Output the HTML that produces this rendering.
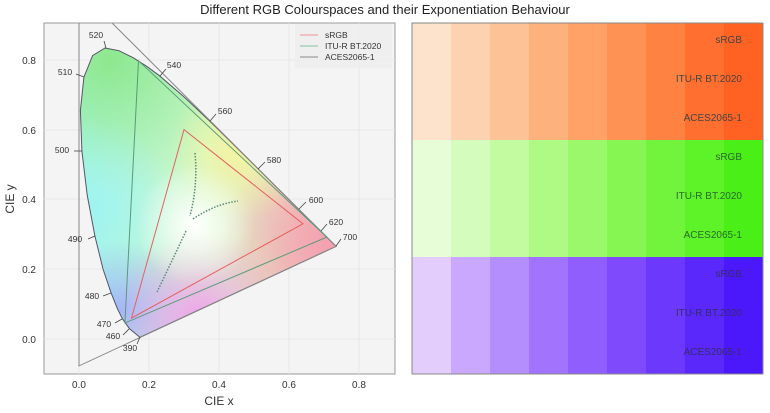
<!DOCTYPE html>
<html><head><meta charset="utf-8"><style>
html,body{margin:0;padding:0;background:#fff;width:770px;height:413px;overflow:hidden}
svg{display:block;font-family:"Liberation Sans",sans-serif}
</style></head><body>
<svg width="770" height="413" viewBox="0 0 770 413">
<defs>
<clipPath id="ax"><rect x="44" y="23" width="351" height="351"/></clipPath>
<clipPath id="loc"><polygon points="139.9,337.3 129.4,328.6 122.4,318.8 117.4,308.7 111,292.7 103,269 94.9,236 87.2,195 81.9,151.1 80.4,110.4 83.9,77.2 92.6,55.6 105,48 119,50.7 133.1,57.7 146.5,66.2 159.4,75.7 184.6,97.4 209.6,121 234.4,145.4 258.4,169.2 280.3,191 298.4,209 321,231.4 330.7,241 336.1,246.4"/></clipPath>
<linearGradient id="g1" x1="0" y1="0" x2="1" y2="0">
<stop offset="0" stop-color="#a8f6e8"/><stop offset="0.5" stop-color="#d8f8c8"/><stop offset="1" stop-color="#f8b8b8"/></linearGradient>
<radialGradient id="gg" cx="110" cy="60" r="140" gradientUnits="userSpaceOnUse"><stop offset="0" stop-color="#8ee88e"/><stop offset="1" stop-color="#8ee88e" stop-opacity="0"/></radialGradient>
<radialGradient id="gc" cx="90" cy="210" r="90" gradientUnits="userSpaceOnUse"><stop offset="0" stop-color="#9ff4f0"/><stop offset="1" stop-color="#9ff4f0" stop-opacity="0"/></radialGradient>
<radialGradient id="gb" cx="120" cy="310" r="70" gradientUnits="userSpaceOnUse"><stop offset="0" stop-color="#9cb8f8"/><stop offset="1" stop-color="#9cb8f8" stop-opacity="0"/></radialGradient>
<radialGradient id="gm" cx="200" cy="320" r="90" gradientUnits="userSpaceOnUse"><stop offset="0" stop-color="#f0a0ec"/><stop offset="1" stop-color="#f0a0ec" stop-opacity="0"/></radialGradient>
<radialGradient id="gr" cx="330" cy="245" r="110" gradientUnits="userSpaceOnUse"><stop offset="0" stop-color="#f4a0b0"/><stop offset="1" stop-color="#f4a0b0" stop-opacity="0"/></radialGradient>
<radialGradient id="gy" cx="240" cy="150" r="70" gradientUnits="userSpaceOnUse"><stop offset="0" stop-color="#f4f4a0"/><stop offset="1" stop-color="#f4f4a0" stop-opacity="0"/></radialGradient>
<radialGradient id="gw" cx="195" cy="225" r="60" gradientUnits="userSpaceOnUse"><stop offset="0" stop-color="#ffffff"/><stop offset="1" stop-color="#ffffff" stop-opacity="0"/></radialGradient>
</defs>
<text x="385" y="14" text-anchor="middle" font-size="13" fill="#222">Different RGB Colourspaces and their Exponentiation Behaviour</text>
<rect x="44" y="23" width="351" height="351" fill="#f4f4f4" stroke="#999" stroke-width="1"/>
<g stroke="#e4e4e4" stroke-width="0.8">
<line x1="79" y1="23" x2="79" y2="374"/><line x1="149" y1="23" x2="149" y2="374"/><line x1="219" y1="23" x2="219" y2="374"/><line x1="289" y1="23" x2="289" y2="374"/><line x1="359" y1="23" x2="359" y2="374"/>
<line x1="44" y1="339" x2="395" y2="339"/><line x1="44" y1="269" x2="395" y2="269"/><line x1="44" y1="199" x2="395" y2="199"/><line x1="44" y1="130" x2="395" y2="130"/><line x1="44" y1="60" x2="395" y2="60"/>
</g>
<g clip-path="url(#ax)">
<g clip-path="url(#loc)">
<rect x="70" y="40" width="280" height="310" fill="url(#g1)"/>
<rect x="70" y="40" width="280" height="310" fill="url(#gg)"/>
<rect x="70" y="40" width="280" height="310" fill="url(#gc)"/>
<rect x="70" y="40" width="280" height="310" fill="url(#gb)"/>
<rect x="70" y="40" width="280" height="310" fill="url(#gm)"/>
<rect x="70" y="40" width="280" height="310" fill="url(#gr)"/>
<rect x="70" y="40" width="280" height="310" fill="url(#gy)"/>
<rect x="70" y="40" width="280" height="310" fill="url(#gw)"/>
</g>
<polygon points="139.9,337.3 129.4,328.6 122.4,318.8 117.4,308.7 111,292.7 103,269 94.9,236 87.2,195 81.9,151.1 80.4,110.4 83.9,77.2 92.6,55.6 105,48 119,50.7 133.1,57.7 146.5,66.2 159.4,75.7 184.6,97.4 209.6,121 234.4,145.4 258.4,169.2 280.3,191 298.4,209 321,231.4 330.7,241 336.1,246.4" fill="none" stroke="#556" stroke-width="1"/>
<polygon points="336.1,246.4 79,-10 79,365.9" fill="none" stroke="#888" stroke-width="1"/>
<polygon points="326.8,237.1 138.5,60.8 124.9,323" fill="none" stroke="#5a9a7a" stroke-width="1"/>
<polygon points="303,223.8 184,129.6 131.5,318.1" fill="none" stroke="#e86060" stroke-width="1"/>
<g fill="none" stroke="#5a8a7a" stroke-width="1.5" stroke-dasharray="1.5 1.5">
<path d="M195,153 Q198,185 190,216"/>
<path d="M193,219 Q215,204 238,201"/>
<path d="M186,231 Q170,265 157,292"/>
</g>
</g>
<g font-size="8.5" fill="#333" text-anchor="middle">
<text x="96" y="38">520</text><text x="65" y="75">510</text><text x="174" y="68">540</text><text x="225" y="114">560</text><text x="274" y="163">580</text><text x="316" y="203">600</text><text x="336" y="225">620</text><text x="350" y="240">700</text>
<text x="62" y="153">500</text><text x="75" y="242">490</text><text x="92" y="299">480</text><text x="104" y="327">470</text><text x="113" y="339">460</text><text x="130" y="351">390</text>
</g>
<g stroke="#444" stroke-width="0.8">
<line x1="106" y1="48" x2="104" y2="41"/><line x1="84" y1="77" x2="76" y2="74"/><line x1="160" y1="76" x2="166" y2="69"/><line x1="210" y1="121" x2="216" y2="114"/><line x1="258" y1="169" x2="265" y2="162"/><line x1="299" y1="209" x2="306" y2="202"/><line x1="321" y1="231" x2="327" y2="224"/><line x1="336" y1="246" x2="341" y2="239"/>
<line x1="82" y1="151" x2="74" y2="151"/><line x1="95" y1="236" x2="88" y2="239"/><line x1="111" y1="293" x2="103" y2="296"/><line x1="122" y1="319" x2="115" y2="323"/><line x1="129" y1="329" x2="123" y2="335"/><line x1="140" y1="337" x2="137" y2="344"/>
</g>
<rect x="295" y="24" width="97" height="44" fill="#eeeeee" opacity="0.9"/>
<line x1="300" y1="35" x2="318" y2="35" stroke="#f09090" stroke-width="1"/>
<line x1="300" y1="46" x2="318" y2="46" stroke="#80c0a0" stroke-width="1"/>
<line x1="300" y1="57" x2="318" y2="57" stroke="#888" stroke-width="1"/>
<g font-size="8.5" fill="#333"><text x="325" y="38">sRGB</text><text x="325" y="49">ITU-R BT.2020</text><text x="325" y="60">ACES2065-1</text></g>
<g font-size="10" fill="#333" text-anchor="middle">
<text x="79" y="388">0.0</text><text x="149" y="388">0.2</text><text x="219" y="388">0.4</text><text x="289" y="388">0.6</text><text x="359" y="388">0.8</text>
</g>
<g font-size="10" fill="#333" text-anchor="end">
<text x="36" y="343">0.0</text><text x="36" y="273">0.2</text><text x="36" y="203">0.4</text><text x="36" y="134">0.6</text><text x="36" y="64">0.8</text>
</g>
<text x="219" y="405" font-size="12" fill="#333" text-anchor="middle">CIE x</text>
<text x="14" y="199" font-size="12" fill="#333" text-anchor="middle" transform="rotate(-90 14 199)">CIE y</text>
<g id="bands">
<rect x="412" y="23" width="39" height="117" fill="#fde3cc"/><rect x="451" y="23" width="39" height="117" fill="#fdd2b0"/><rect x="490" y="23" width="39" height="117" fill="#fdc296"/><rect x="529" y="23" width="39" height="117" fill="#fdb27e"/><rect x="568" y="23" width="39" height="117" fill="#fea268"/><rect x="607" y="23" width="39" height="117" fill="#fe9254"/><rect x="646" y="23" width="39" height="117" fill="#fe8242"/><rect x="685" y="23" width="39" height="117" fill="#ff7030"/><rect x="724" y="23" width="39" height="117" fill="#ff6222"/>
<rect x="412" y="140" width="39" height="117" fill="#e6fdd8"/><rect x="451" y="140" width="39" height="117" fill="#d4fcbc"/><rect x="490" y="140" width="39" height="117" fill="#c2fba0"/><rect x="529" y="140" width="39" height="117" fill="#aefa84"/><rect x="568" y="140" width="39" height="117" fill="#9af86a"/><rect x="607" y="140" width="39" height="117" fill="#86f652"/><rect x="646" y="140" width="39" height="117" fill="#72f43c"/><rect x="685" y="140" width="39" height="117" fill="#5ef228"/><rect x="724" y="140" width="39" height="117" fill="#4aef18"/>
<rect x="412" y="257" width="39" height="117" fill="#e2cdfd"/><rect x="451" y="257" width="39" height="117" fill="#c9a8fd"/><rect x="490" y="257" width="39" height="117" fill="#b48efd"/><rect x="529" y="257" width="39" height="117" fill="#a274fd"/><rect x="568" y="257" width="39" height="117" fill="#905efd"/><rect x="607" y="257" width="39" height="117" fill="#7e4afc"/><rect x="646" y="257" width="39" height="117" fill="#6c38fc"/><rect x="685" y="257" width="39" height="117" fill="#5a28fb"/><rect x="724" y="257" width="39" height="117" fill="#4a18fb"/>
</g>
<rect x="412" y="23" width="351" height="351" fill="none" stroke="#888" stroke-width="1"/>
<g font-size="10" text-anchor="end">
<g fill="#444"><text x="742" y="43">sRGB</text><text x="742" y="82">ITU-R BT.2020</text><text x="742" y="121">ACES2065-1</text></g>
<g fill="#2a6a2a"><text x="742" y="160">sRGB</text><text x="742" y="199">ITU-R BT.2020</text><text x="742" y="238">ACES2065-1</text></g>
<g fill="#3a2a6a"><text x="742" y="277">sRGB</text><text x="742" y="316">ITU-R BT.2020</text><text x="742" y="355">ACES2065-1</text></g>
</g>
</svg>
</body></html>
